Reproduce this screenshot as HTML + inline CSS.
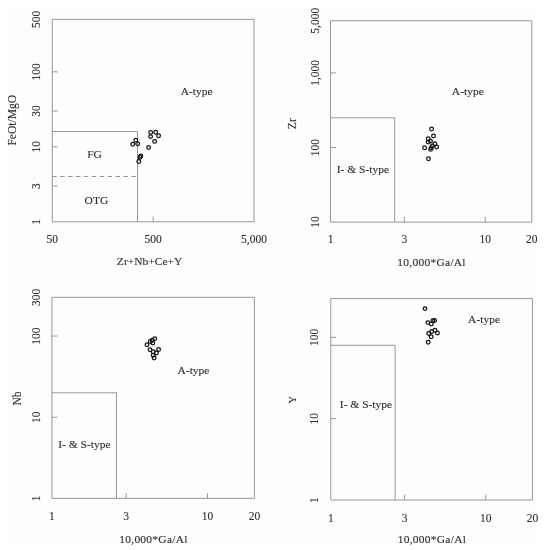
<!DOCTYPE html>
<html><head><meta charset="utf-8"><title>Discrimination diagrams</title>
<style>
html,body{margin:0;padding:0;background:#fff;}
svg{display:block;}
text{font-family:"Liberation Serif","Times New Roman",serif;fill:#303030;stroke:#303030;stroke-width:0.12;}
circle{fill:none;stroke:#111;stroke-width:1.25;}
</style></head>
<body>
<svg width="549" height="550" viewBox="0 0 549 550">
<rect width="549" height="550" fill="#fff"/>
<rect x="8" y="6" width="529" height="540" fill="#fdfdfd"/>
<line x1="52.30" y1="19.40" x2="254.00" y2="19.40" stroke="#989898" stroke-width="1.0"/>
<line x1="254.00" y1="19.40" x2="254.00" y2="221.80" stroke="#989898" stroke-width="1.0"/>
<line x1="254.00" y1="221.80" x2="52.30" y2="221.80" stroke="#989898" stroke-width="1.0"/>
<line x1="52.30" y1="221.80" x2="52.30" y2="19.40" stroke="#989898" stroke-width="1.0"/>
<line x1="52.30" y1="186.02" x2="57.70" y2="186.02" stroke="#989898" stroke-width="1.0"/>
<line x1="52.30" y1="146.81" x2="57.70" y2="146.81" stroke="#989898" stroke-width="1.0"/>
<line x1="52.30" y1="111.03" x2="57.70" y2="111.03" stroke="#989898" stroke-width="1.0"/>
<line x1="52.30" y1="71.82" x2="57.70" y2="71.82" stroke="#989898" stroke-width="1.0"/>
<line x1="153.15" y1="221.80" x2="153.15" y2="216.40" stroke="#989898" stroke-width="1.0"/>
<line x1="52.30" y1="131.50" x2="137.53" y2="131.50" stroke="#989898" stroke-width="1.0"/>
<line x1="137.53" y1="131.50" x2="137.53" y2="221.80" stroke="#989898" stroke-width="1.0"/>
<line x1="52.30" y1="176.50" x2="137.53" y2="176.50" stroke="#989898" stroke-width="1.0" stroke-dasharray="4.5 3.4"/>
<text x="40.20" y="19.40" text-anchor="middle" transform="rotate(-90 40.20 19.40)" font-size="11.5">500</text>
<text x="40.20" y="71.82" text-anchor="middle" transform="rotate(-90 40.20 71.82)" font-size="11.5">100</text>
<text x="40.20" y="111.03" text-anchor="middle" transform="rotate(-90 40.20 111.03)" font-size="11.5">30</text>
<text x="40.20" y="146.81" text-anchor="middle" transform="rotate(-90 40.20 146.81)" font-size="11.5">10</text>
<text x="40.20" y="186.02" text-anchor="middle" transform="rotate(-90 40.20 186.02)" font-size="11.5">3</text>
<text x="40.20" y="221.80" text-anchor="middle" transform="rotate(-90 40.20 221.80)" font-size="11.5">1</text>
<text x="52.30" y="243.20" text-anchor="middle" font-size="11.5">50</text>
<text x="153.15" y="243.20" text-anchor="middle" font-size="11.5">500</text>
<text x="254.00" y="243.20" text-anchor="middle" font-size="11.5">5,000</text>
<text x="16.40" y="120.30" text-anchor="middle" transform="rotate(-90 16.40 120.30)" font-size="11.5">FeOt/MgO</text>
<text x="149.60" y="281.70" text-anchor="middle" transform="scale(1 0.94)" font-size="11.5">Zr+Nb+Ce+Y</text>
<text x="196.60" y="101.28" text-anchor="middle" transform="scale(1 0.94)" font-size="11.5">A-type</text>
<text x="94.50" y="168.51" text-anchor="middle" transform="scale(1 0.94)" font-size="11.5">FG</text>
<text x="96.40" y="217.23" text-anchor="middle" transform="scale(1 0.94)" font-size="11.5">OTG</text>
<circle cx="135.80" cy="140.20" r="1.85"/>
<circle cx="132.70" cy="144.30" r="1.85"/>
<circle cx="137.70" cy="143.70" r="1.85"/>
<circle cx="140.80" cy="156.00" r="1.85"/>
<circle cx="140.00" cy="157.30" r="1.85"/>
<circle cx="138.80" cy="161.50" r="1.85"/>
<circle cx="150.70" cy="132.40" r="1.85"/>
<circle cx="155.70" cy="132.20" r="1.85"/>
<circle cx="150.60" cy="136.60" r="1.85"/>
<circle cx="158.60" cy="135.70" r="1.85"/>
<circle cx="154.60" cy="141.40" r="1.85"/>
<circle cx="148.60" cy="147.50" r="1.85"/>
<line x1="330.50" y1="20.80" x2="531.80" y2="20.80" stroke="#989898" stroke-width="1.0"/>
<line x1="531.80" y1="20.80" x2="531.80" y2="222.10" stroke="#989898" stroke-width="1.0"/>
<line x1="531.80" y1="222.10" x2="330.50" y2="222.10" stroke="#989898" stroke-width="1.0"/>
<line x1="330.50" y1="222.10" x2="330.50" y2="20.80" stroke="#989898" stroke-width="1.0"/>
<line x1="330.50" y1="147.52" x2="335.90" y2="147.52" stroke="#989898" stroke-width="1.0"/>
<line x1="330.50" y1="72.93" x2="335.90" y2="72.93" stroke="#989898" stroke-width="1.0"/>
<line x1="404.32" y1="222.10" x2="404.32" y2="216.70" stroke="#989898" stroke-width="1.0"/>
<line x1="485.22" y1="222.10" x2="485.22" y2="216.70" stroke="#989898" stroke-width="1.0"/>
<line x1="330.50" y1="117.84" x2="394.71" y2="117.84" stroke="#989898" stroke-width="1.0"/>
<line x1="394.71" y1="117.84" x2="394.71" y2="222.10" stroke="#989898" stroke-width="1.0"/>
<text x="318.80" y="20.80" text-anchor="middle" transform="rotate(-90 318.80 20.80)" font-size="11.5">5,000</text>
<text x="318.80" y="72.93" text-anchor="middle" transform="rotate(-90 318.80 72.93)" font-size="11.5">1,000</text>
<text x="318.80" y="147.52" text-anchor="middle" transform="rotate(-90 318.80 147.52)" font-size="11.5">100</text>
<text x="318.80" y="222.10" text-anchor="middle" transform="rotate(-90 318.80 222.10)" font-size="11.5">10</text>
<text x="330.50" y="243.30" text-anchor="middle" font-size="11.5">1</text>
<text x="404.32" y="243.30" text-anchor="middle" font-size="11.5">3</text>
<text x="485.22" y="243.30" text-anchor="middle" font-size="11.5">10</text>
<text x="531.80" y="243.30" text-anchor="middle" font-size="11.5">20</text>
<text x="296.00" y="123.70" text-anchor="middle" transform="rotate(-90 296.00 123.70)" font-size="11.5">Zr</text>
<text x="431.60" y="283.30" text-anchor="middle" transform="scale(1 0.94)" font-size="11.5" letter-spacing="0.25">10,000*Ga/Al</text>
<text x="467.80" y="101.60" text-anchor="middle" transform="scale(1 0.94)" font-size="11.5">A-type</text>
<text x="362.90" y="184.04" text-anchor="middle" transform="scale(1 0.94)" font-size="11.5">I- &amp; S-type</text>
<circle cx="431.60" cy="129.00" r="1.85"/>
<circle cx="433.50" cy="135.90" r="1.85"/>
<circle cx="428.20" cy="138.80" r="1.85"/>
<circle cx="430.50" cy="141.10" r="1.85"/>
<circle cx="428.10" cy="142.10" r="1.85"/>
<circle cx="434.90" cy="143.70" r="1.85"/>
<circle cx="432.30" cy="146.00" r="1.85"/>
<circle cx="436.70" cy="147.00" r="1.85"/>
<circle cx="424.60" cy="147.80" r="1.85"/>
<circle cx="430.60" cy="149.40" r="1.85"/>
<circle cx="428.50" cy="158.80" r="1.85"/>
<circle cx="431.30" cy="147.90" r="1.85"/>
<line x1="51.90" y1="297.30" x2="254.40" y2="297.30" stroke="#989898" stroke-width="1.0"/>
<line x1="254.40" y1="297.30" x2="254.40" y2="498.40" stroke="#989898" stroke-width="1.0"/>
<line x1="254.40" y1="498.40" x2="51.90" y2="498.40" stroke="#989898" stroke-width="1.0"/>
<line x1="51.90" y1="498.40" x2="51.90" y2="297.30" stroke="#989898" stroke-width="1.0"/>
<line x1="51.90" y1="417.22" x2="57.30" y2="417.22" stroke="#989898" stroke-width="1.0"/>
<line x1="51.90" y1="336.03" x2="57.30" y2="336.03" stroke="#989898" stroke-width="1.0"/>
<line x1="126.16" y1="498.40" x2="126.16" y2="493.00" stroke="#989898" stroke-width="1.0"/>
<line x1="207.55" y1="498.40" x2="207.55" y2="493.00" stroke="#989898" stroke-width="1.0"/>
<line x1="51.90" y1="392.78" x2="116.49" y2="392.78" stroke="#989898" stroke-width="1.0"/>
<line x1="116.49" y1="392.78" x2="116.49" y2="498.40" stroke="#989898" stroke-width="1.0"/>
<text x="40.20" y="297.30" text-anchor="middle" transform="rotate(-90 40.20 297.30)" font-size="11.5">300</text>
<text x="40.20" y="336.03" text-anchor="middle" transform="rotate(-90 40.20 336.03)" font-size="11.5">100</text>
<text x="40.20" y="417.22" text-anchor="middle" transform="rotate(-90 40.20 417.22)" font-size="11.5">10</text>
<text x="40.20" y="498.40" text-anchor="middle" transform="rotate(-90 40.20 498.40)" font-size="11.5">1</text>
<text x="51.90" y="519.80" text-anchor="middle" font-size="11.5">1</text>
<text x="126.16" y="519.80" text-anchor="middle" font-size="11.5">3</text>
<text x="207.55" y="519.80" text-anchor="middle" font-size="11.5">10</text>
<text x="254.40" y="519.80" text-anchor="middle" font-size="11.5">20</text>
<text x="21.20" y="398.50" text-anchor="middle" transform="rotate(-90 21.20 398.50)" font-size="11.5">Nb</text>
<text x="153.50" y="577.23" text-anchor="middle" transform="scale(1 0.94)" font-size="11.5" letter-spacing="0.25">10,000*Ga/Al</text>
<text x="193.50" y="398.19" text-anchor="middle" transform="scale(1 0.94)" font-size="11.5">A-type</text>
<text x="84.40" y="476.38" text-anchor="middle" transform="scale(1 0.94)" font-size="11.5">I- &amp; S-type</text>
<circle cx="147.00" cy="344.80" r="1.85"/>
<circle cx="154.80" cy="338.60" r="1.85"/>
<circle cx="152.20" cy="340.20" r="1.85"/>
<circle cx="150.30" cy="341.50" r="1.85"/>
<circle cx="152.80" cy="343.10" r="1.85"/>
<circle cx="150.00" cy="349.80" r="1.85"/>
<circle cx="158.60" cy="349.40" r="1.85"/>
<circle cx="153.20" cy="351.70" r="1.85"/>
<circle cx="156.40" cy="352.90" r="1.85"/>
<circle cx="153.20" cy="355.20" r="1.85"/>
<circle cx="154.10" cy="358.00" r="1.85"/>
<line x1="330.80" y1="298.60" x2="532.40" y2="298.60" stroke="#989898" stroke-width="1.0"/>
<line x1="532.40" y1="298.60" x2="532.40" y2="500.00" stroke="#989898" stroke-width="1.0"/>
<line x1="532.40" y1="500.00" x2="330.80" y2="500.00" stroke="#989898" stroke-width="1.0"/>
<line x1="330.80" y1="500.00" x2="330.80" y2="298.60" stroke="#989898" stroke-width="1.0"/>
<line x1="330.80" y1="418.70" x2="336.20" y2="418.70" stroke="#989898" stroke-width="1.0"/>
<line x1="330.80" y1="337.39" x2="336.20" y2="337.39" stroke="#989898" stroke-width="1.0"/>
<line x1="404.73" y1="500.00" x2="404.73" y2="494.60" stroke="#989898" stroke-width="1.0"/>
<line x1="485.75" y1="500.00" x2="485.75" y2="494.60" stroke="#989898" stroke-width="1.0"/>
<line x1="330.80" y1="345.27" x2="395.10" y2="345.27" stroke="#989898" stroke-width="1.0"/>
<line x1="395.10" y1="345.27" x2="395.10" y2="500.00" stroke="#989898" stroke-width="1.0"/>
<text x="318.30" y="337.39" text-anchor="middle" transform="rotate(-90 318.30 337.39)" font-size="11.5">100</text>
<text x="318.30" y="418.70" text-anchor="middle" transform="rotate(-90 318.30 418.70)" font-size="11.5">10</text>
<text x="318.30" y="500.00" text-anchor="middle" transform="rotate(-90 318.30 500.00)" font-size="11.5">1</text>
<text x="330.80" y="521.90" text-anchor="middle" font-size="11.5">1</text>
<text x="404.73" y="521.90" text-anchor="middle" font-size="11.5">3</text>
<text x="485.75" y="521.90" text-anchor="middle" font-size="11.5">10</text>
<text x="532.40" y="521.90" text-anchor="middle" font-size="11.5">20</text>
<text x="295.90" y="399.80" text-anchor="middle" transform="rotate(-90 295.90 399.80)" font-size="10.2">Y</text>
<text x="431.90" y="577.66" text-anchor="middle" transform="scale(1 0.94)" font-size="11.5" letter-spacing="0.25">10,000*Ga/Al</text>
<text x="484.10" y="343.30" text-anchor="middle" transform="scale(1 0.94)" font-size="11.5">A-type</text>
<text x="366.00" y="433.72" text-anchor="middle" transform="scale(1 0.94)" font-size="11.5">I- &amp; S-type</text>
<circle cx="425.00" cy="308.60" r="1.85"/>
<circle cx="427.80" cy="322.60" r="1.85"/>
<circle cx="431.30" cy="324.00" r="1.85"/>
<circle cx="432.90" cy="320.80" r="1.85"/>
<circle cx="434.60" cy="320.40" r="1.85"/>
<circle cx="428.70" cy="333.50" r="1.85"/>
<circle cx="431.70" cy="331.50" r="1.85"/>
<circle cx="435.00" cy="330.20" r="1.85"/>
<circle cx="437.40" cy="333.00" r="1.85"/>
<circle cx="431.20" cy="336.80" r="1.85"/>
<circle cx="428.20" cy="342.30" r="1.85"/>
</svg>
</body></html>
